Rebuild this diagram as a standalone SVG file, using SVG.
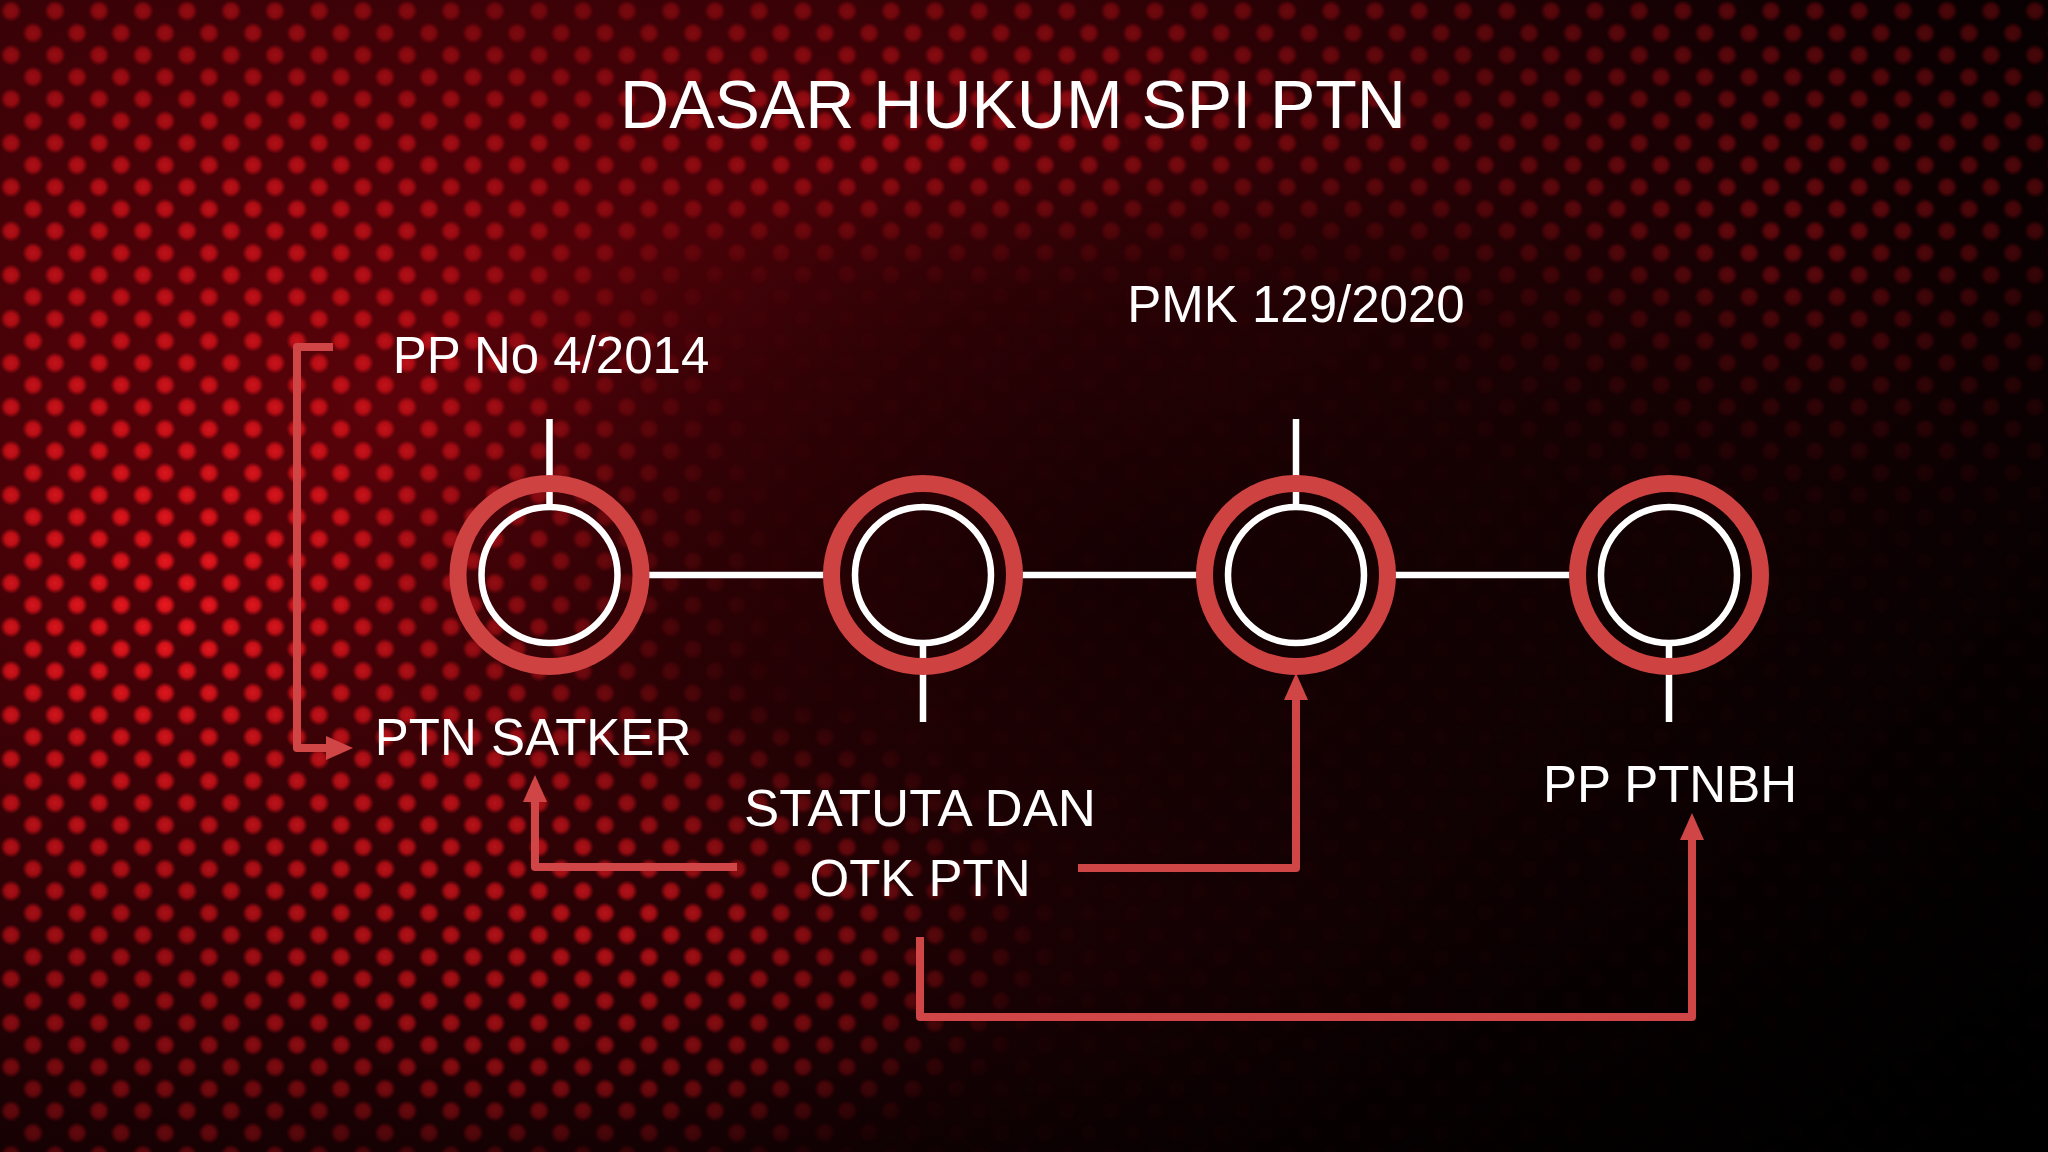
<svg xmlns="http://www.w3.org/2000/svg" width="2048" height="1152" viewBox="0 0 2048 1152">
  <defs>
    <style>
      .lbl { font-family: "Liberation Sans", Arial, sans-serif; font-size: 51px; fill: #FFFFFF; text-anchor: middle; }
      .title { font-family: "Liberation Sans", Arial, sans-serif; font-size: 68px; fill: #FFFFFF; text-anchor: middle; }
      .ring { fill: none; stroke: #CE4242; stroke-width: 17; }
      .inner { fill: none; stroke: #FFFFFF; stroke-width: 6.5; }
      .wline { stroke: #FFFFFF; stroke-width: 6.5; fill: none; }
      .conn { fill: none; stroke: #D04646; stroke-width: 8; stroke-linejoin: round; }
    </style>
    <marker id="arrow" viewBox="-2 -13 29 26" refX="0" refY="0" markerWidth="29" markerHeight="26" markerUnits="userSpaceOnUse" orient="auto">
      <path d="M-2,-12 L25,0 L-2,12 Z" fill="#D04646"/>
    </marker>
    <radialGradient id="bgGlow" cx="0.2" cy="0.35" r="0.95">
      <stop offset="0" stop-color="#5a0209"/>
      <stop offset="0.45" stop-color="#360206"/>
      <stop offset="0.8" stop-color="#120103"/>
      <stop offset="1" stop-color="#040000"/>
    </radialGradient>
    <radialGradient id="dotGrad" cx="0.5" cy="0.5" r="0.5">
      <stop offset="0" stop-color="#f01a22"/>
      <stop offset="0.55" stop-color="#d8121a"/>
      <stop offset="1" stop-color="#c00e16" stop-opacity="0"/>
    </radialGradient>
    <pattern id="dots" x="0" y="0" width="44" height="44" patternUnits="userSpaceOnUse">
      <circle cx="11" cy="11" r="11" fill="url(#dotGrad)"/>
      <circle cx="33" cy="33" r="11" fill="url(#dotGrad)"/>
    </pattern>
    <radialGradient id="mLeft" cx="0.5" cy="0.5" r="0.5">
      <stop offset="0" stop-color="#ffffff" stop-opacity="1"/>
      <stop offset="0.6" stop-color="#ffffff" stop-opacity="0.6"/>
      <stop offset="1" stop-color="#ffffff" stop-opacity="0"/>
    </radialGradient>
    <radialGradient id="mSoft" cx="0.5" cy="0.5" r="0.5">
      <stop offset="0" stop-color="#ffffff" stop-opacity="0.4"/>
      <stop offset="1" stop-color="#ffffff" stop-opacity="0"/>
    </radialGradient>
    <linearGradient id="mTop" x1="0" y1="0" x2="0" y2="1">
      <stop offset="0" stop-color="#ffffff" stop-opacity="0.3"/>
      <stop offset="0.6" stop-color="#ffffff" stop-opacity="0.22"/>
      <stop offset="1" stop-color="#ffffff" stop-opacity="0"/>
    </linearGradient>
    <mask id="dotMask" maskUnits="userSpaceOnUse" x="0" y="0" width="2048" height="1152">
      <rect x="0" y="0" width="2048" height="1152" fill="#0c0c0c"/>
      <rect x="0" y="0" width="2048" height="300" fill="url(#mTop)"/>
      <ellipse cx="180" cy="620" rx="600" ry="720" fill="url(#mLeft)"/>
      <ellipse cx="620" cy="930" rx="440" ry="260" fill="url(#mLeft)"/>
      <ellipse cx="1800" cy="260" rx="480" ry="280" fill="url(#mSoft)"/>
      <ellipse cx="900" cy="140" rx="650" ry="150" fill="url(#mSoft)"/>
    </mask>
    <radialGradient id="centerDark" cx="0.5" cy="0.5" r="0.5">
      <stop offset="0" stop-color="#000000" stop-opacity="0.55"/>
      <stop offset="0.6" stop-color="#000000" stop-opacity="0.3"/>
      <stop offset="1" stop-color="#000000" stop-opacity="0"/>
    </radialGradient>
    <linearGradient id="shadeBR" x1="0.3" y1="0.3" x2="1" y2="1">
      <stop offset="0" stop-color="#000000" stop-opacity="0"/>
      <stop offset="0.55" stop-color="#000000" stop-opacity="0.35"/>
      <stop offset="1" stop-color="#000000" stop-opacity="0.95"/>
    </linearGradient>
  </defs>

  <g id="background">
    <rect x="0" y="0" width="2048" height="1152" fill="url(#bgGlow)"/>
    <rect x="0" y="0" width="2048" height="1152" fill="url(#dots)" mask="url(#dotMask)"/>
    <ellipse cx="1150" cy="560" rx="820" ry="420" fill="url(#centerDark)"/>
    <rect x="0" y="0" width="2048" height="1152" fill="url(#shadeBR)"/>
  </g>

  <g id="title">
    <text class="title" x="1013" y="128">DASAR HUKUM SPI PTN</text>
  </g>

  <g id="connectors">
    <line class="wline" x1="649" y1="575" x2="824" y2="575"/>
    <line class="wline" x1="1022" y1="575" x2="1197" y2="575"/>
    <line class="wline" x1="1395" y1="575" x2="1570" y2="575"/>
    <path class="conn" d="M333,347 H297 V748 H328" marker-end="url(#arrow)"/>
    <path class="conn" d="M737,867 H535 V800" marker-end="url(#arrow)"/>
    <path class="conn" d="M1078,868 H1296 V698" marker-end="url(#arrow)"/>
    <path class="conn" d="M920,937 V1017 H1692 V838" marker-end="url(#arrow)"/>
  </g>

  <g id="node-pp-no-4-2014">
    <line class="wline" x1="549.5" y1="419" x2="549.5" y2="508"/>
    <circle class="ring" cx="549.5" cy="575" r="91.5"/>
    <circle class="inner" cx="549.5" cy="575" r="68"/>
    <text class="lbl" x="551" y="373">PP No 4/2014</text>
  </g>

  <g id="node-statuta-otk">
    <line class="wline" x1="923" y1="642" x2="923" y2="722"/>
    <circle class="ring" cx="923" cy="575" r="91.5"/>
    <circle class="inner" cx="923" cy="575" r="68"/>
    <text class="lbl" x="920" y="826" textLength="352" lengthAdjust="spacingAndGlyphs">STATUTA DAN</text>
    <text class="lbl" x="920" y="896">OTK PTN</text>
  </g>

  <g id="node-pmk-129-2020">
    <line class="wline" x1="1296" y1="419" x2="1296" y2="508"/>
    <circle class="ring" cx="1296" cy="575" r="91.5"/>
    <circle class="inner" cx="1296" cy="575" r="68"/>
    <text class="lbl" x="1296" y="322">PMK 129/2020</text>
  </g>

  <g id="node-pp-ptnbh">
    <line class="wline" x1="1669" y1="642" x2="1669" y2="722"/>
    <circle class="ring" cx="1669" cy="575" r="91.5"/>
    <circle class="inner" cx="1669" cy="575" r="68"/>
    <text class="lbl" x="1670" y="802">PP PTNBH</text>
  </g>

  <g id="node-ptn-satker">
    <text class="lbl" x="533" y="755">PTN SATKER</text>
  </g>
</svg>
